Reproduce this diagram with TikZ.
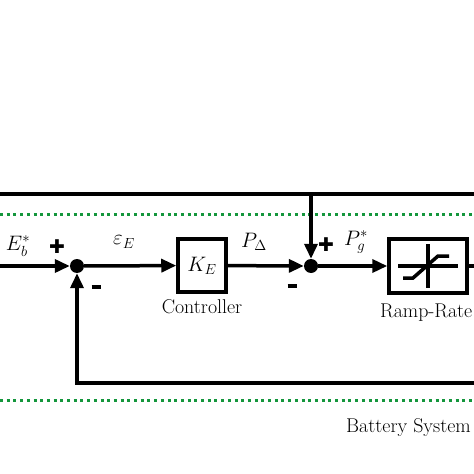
\RequirePackage{fix-cm}
\documentclass[tikz,border=0pt]{standalone}
\usepackage{amsmath}
\usepackage{fontspec}
\usepackage{tikz}
\usetikzlibrary{arrows.meta,positioning}
\usepackage{xcolor}
\newfontfamily\signfont{DejaVu Sans}
\definecolor{bsgreen}{RGB}{20,150,60}
\tikzset{
  sumnode/.style={circle,fill=black,minimum size=14bp,inner sep=0pt},
  blocknode/.style={rectangle,draw=black,line width=3.5bp,fill=white,inner sep=1pt},
  sigwire/.style={line width=3.5bp,draw=black},
  sigarrow/.style={sigwire,-{Triangle[length=15bp,width=13bp]}},
  bounddots/.style={draw=bsgreen,line width=3bp,dash pattern=on 3bp off 3.7bp},
  sgnlabel/.style={font=\signfont\fontsize{19}{21}\selectfont\bfseries,inner sep=0pt},
  txtlabel/.style={font=\fontsize{20}{23}\selectfont,inner sep=0pt}
}
\newcommand{\minussign}{\rule{9bp}{4.5bp}}

\begin{document}
\begin{tikzpicture}[x=1bp,y=-1bp,font=\fontsize{21}{24}\selectfont]
  \useasboundingbox (0,0) rectangle (474,474);
  \clip (0,0) rectangle (474,474);
  % boundaries of the battery system
  \draw[bounddots] (0,215) -- (474,215);
  \draw[bounddots] (0,400) -- (474,400);
  % blocks
  \node[sumnode] (s1) at (77,266) {};
  \node[sumnode] (s2) at (311,266) {};
  \node[blocknode,minimum width=48bp,minimum height=53bp] (ke) at (202,265.5) {$K_E$};
  \node[blocknode,minimum width=78bp,minimum height=54bp] (rr) at (428,266) {};
  \node[txtlabel,anchor=north] at ([yshift=-6bp]ke.south) {Controller};
  \node[txtlabel,anchor=west] at (380,313) {Ramp-Rate};
  \node[txtlabel,anchor=west] at (346,428) {Battery System};
  % ramp-rate symbol
  \draw[sigwire] (398,266) -- (458,266);
  \draw[sigwire] (428,244) -- (428,288);
  \draw[sigwire] (403,278) -- (413,278) -- (438,256) -- (449,256);
  % free ends
  \coordinate (inE) at (0,266);
  \coordinate (topL) at (0,194);
  \coordinate (topR) at (474,194);
  \coordinate (outR) at (474,266);
  \coordinate (fbR) at (474,383);
  % connectors
  \draw[sigarrow] (inE) -- (s1);
  \draw[sigarrow] (s1) -- (ke);
  \draw[sigarrow] (ke) -- (s2);
  \draw[sigarrow] (s2) -- (rr);
  \draw[sigwire] (rr) -- (outR);
  \draw[sigwire] (topL) -- (topR);
  \draw[sigarrow] (s2 |- topL) -- (s2);
  \draw[sigarrow] (fbR) -| (s1);
  % signal labels
  \node at (18,246) {$E_b^*$};
  \node at (124,242) {$\varepsilon_E$};
  \node at (254,242) {$P_\Delta$};
  \node at (356,242) {$P_g^*$};
  \node[sgnlabel] at (57,247) {✚};
  \node[sgnlabel] at (96,287) {\minussign};
  \node[sgnlabel] at (326,245) {✚};
  \node[sgnlabel] at (292,286) {\minussign};
\end{tikzpicture}
\end{document}
